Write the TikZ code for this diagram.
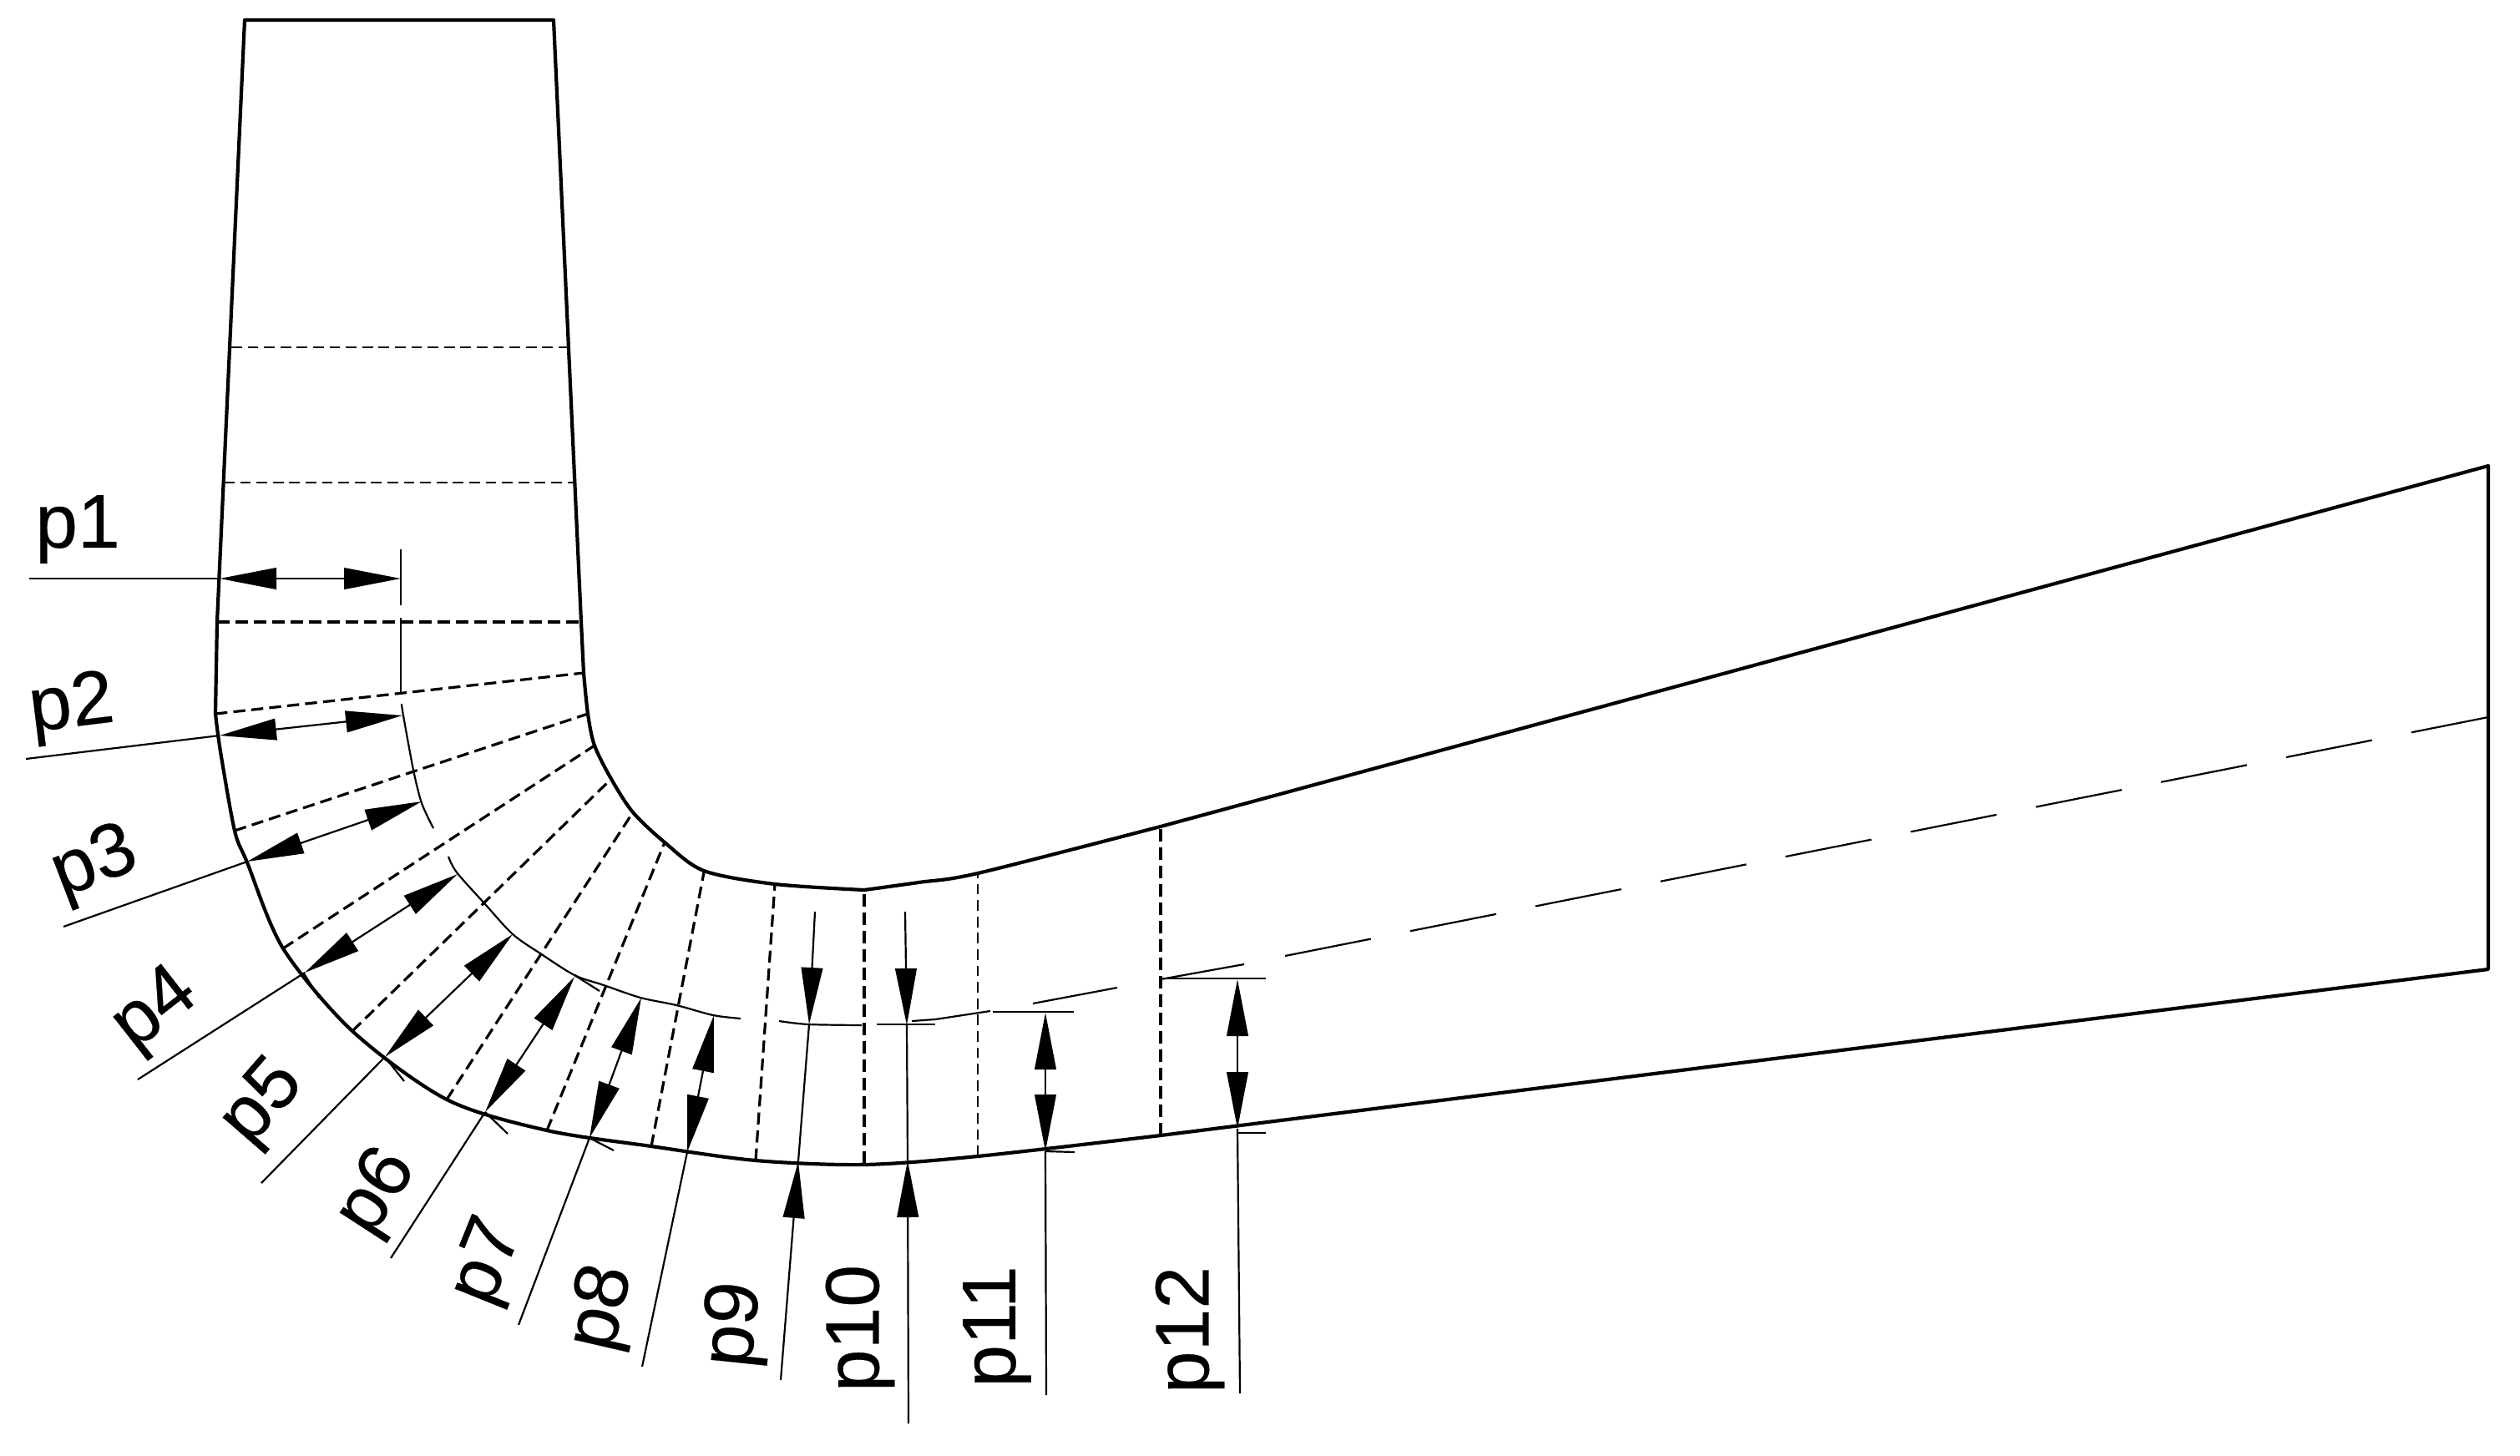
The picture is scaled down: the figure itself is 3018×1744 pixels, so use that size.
\documentclass[tikz,border=0pt]{standalone}
\usepackage{fontspec}
\setmainfont[FakeBold=0.3]{Liberation Sans}
\usetikzlibrary{arrows.meta}
\tikzset{
  contour/.style={line width=1.05pt,line join=round,line cap=round},
  dashthin/.style={line width=0.55pt,dash pattern=on 3.2pt off 1.7pt},
  dashmed/.style={line width=0.8pt,dash pattern=on 3.6pt off 1.8pt},
  dashthick/.style={line width=1.15pt,dash pattern=on 3.8pt off 1.7pt},
  witness/.style={line width=0.55pt,line join=round},
  centreline/.style={line width=0.55pt,dash pattern=on 26.2pt off 12pt},
  dimline/.style={line width=0.55pt},
  dimboth/.style={dimline,{Triangle[length=17pt,width=6.4pt]}-{Triangle[length=17pt,width=6.4pt]}},
  dimend/.style={dimline,-{Triangle[length=17pt,width=6.4pt]}},
  lbl/.style={inner sep=0pt,font=\fontsize{22.8}{27}\selectfont}
}
\begin{document}
\begin{tikzpicture}[x=0.25pt,y=-0.25pt]
\useasboundingbox (0,0) rectangle (3018,1744);
% outline
\draw[contour] (258,855) -- (260,745) -- (293,24) -- (663,24) -- (696,745) -- (699,806);
\draw[contour] plot[smooth,tension=0.5] coordinates {(699,806) (704,855) (712,893) (732,933) (758,973) (796,1009) (843,1043) (928,1059) (1035,1066)};
\draw[contour] plot[smooth,tension=0.5] coordinates {(1035,1066) (1100,1057) (1171,1046) (1390,990)} -- (2980,558) -- (2980,1161) -- (1390,1360);
\draw[contour] plot[smooth,tension=0.5] coordinates {(258,855) (264,900) (281,995) (296,1033) (339,1136) (422,1235) (535,1317) (655,1354) (780,1373) (905,1390) (1035,1395) (1171,1385) (1390,1360)};
% section lines
\draw[dashthin] (277,416) -- (682,416);
\draw[dashthin] (268,578) -- (688,578);
\draw[dashthick] (260,745) -- (696,745);
\draw[dashmed] (258,855) -- (699,806);
\draw[dashmed] (281,995) -- (704,855);
\draw[dashmed] (339,1136) -- (712,893);
\draw[dashmed] (422,1235) -- (732,933);
\draw[dashmed] (535,1317) -- (758,973);
\draw[dashmed] (655,1354) -- (796,1009);
\draw[dashmed] (780,1373) -- (843,1045);
\draw[dashmed] (905,1390) -- (928,1059);
\draw[dashthick] (1035,1394) -- (1035,1066);
\draw[dashthin] (1171,1385) -- (1171,1046);
\draw[dashthick] (1390,1360) -- (1390,990);
% witness and centre lines
\draw[witness] (480,658) -- (480,725);
\draw[witness] (480,740) -- (480,830);
\draw[witness] plot[smooth,tension=0.5] coordinates {(481,843) (483,857) (495,922) (505,962) (519,992)};
\draw[witness] plot[smooth,tension=0.5] coordinates {(537,1026) (547,1045) (581,1083) (614,1119) (647,1142) (688,1168) (723,1180) (767,1195) (810,1204) (854,1216) (887,1220)};
\draw[witness] (688,1168) -- (718,1187);
\draw[witness] plot[smooth,tension=0.5] coordinates {(933,1223) (968,1227) (1032,1228)};
\draw[witness] (1050,1227) -- (1120,1227);
\draw[witness] (1092,1223) -- (1120,1221) -- (1186,1211);
\draw[witness] (1189,1212) -- (1286,1212);
\draw[witness] (1237,1202) -- (1338,1183);
\draw[witness] (1390,1173) -- (1490,1155);
\draw[witness] (1393,1172) -- (1516,1172);
\draw[centreline] (1539,1145) -- (2980,859);
\draw[witness] (1252,1379) -- (1287,1380);
\draw[witness] (1482,1357) -- (1516,1357);
\draw[witness] (364,1166) -- (382,1195);
\draw[witness] (461,1266) -- (484,1295);
\draw[witness] (581,1332) -- (608,1358);
\draw[witness] (706,1363) -- (735,1378);
% dimension points
\coordinate (p1a) at (263,693); \coordinate (p1b) at (480,693); \coordinate (p1e) at (35,693);
\coordinate (p2a) at (263,881); \coordinate (p2b) at (482,857); \coordinate (p2e) at (31,909);
\coordinate (p3a) at (296,1032); \coordinate (p3b) at (505,960); \coordinate (p3e) at (76,1110);
\coordinate (p4a) at (365,1165); \coordinate (p4b) at (548,1047); \coordinate (p4e) at (165,1293);
\coordinate (p5a) at (461,1266); \coordinate (p5b) at (614,1119); \coordinate (p5e) at (313,1417);
\coordinate (p6a) at (581,1332); \coordinate (p6b) at (688,1170); \coordinate (p6e) at (468,1507);
\coordinate (p7a) at (706,1363); \coordinate (p7b) at (768,1195); \coordinate (p7e) at (621,1587);
\coordinate (p8a) at (823,1380); \coordinate (p8b) at (855,1216); \coordinate (p8e) at (769,1637);
\coordinate (p9t) at (976,1092); \coordinate (p9b) at (969,1227); \coordinate (p9a) at (956,1391); \coordinate (p9e) at (935,1653);
\coordinate (p10t) at (1084,1092); \coordinate (p10b) at (1086,1228); \coordinate (p10a) at (1087,1390); \coordinate (p10e) at (1088,1705);
\coordinate (p11b) at (1252,1213); \coordinate (p11a) at (1252,1379); \coordinate (p11e) at (1253,1671);
\coordinate (p12b) at (1482,1173); \coordinate (p12a) at (1482,1352); \coordinate (p12e) at (1485,1669);
% dimension lines
\foreach \n in {1,...,8}{
  \draw[dimboth] (p\n a) -- (p\n b);
  \draw[dimline] (p\n a) -- (p\n e);
}
\draw[dimend] (p9t) -- (p9b);
\draw[dimline] (p9b) -- (p9a);
\draw[dimend] (p9e) -- (p9a);
\draw[dimend] (p10t) -- (p10b);
\draw[dimline] (p10b) -- (p10a);
\draw[dimend] (p10e) -- (p10a);
\draw[dimboth] (p11a) -- (p11b);
\draw[dimline] (p11a) -- (p11e);
\draw[dimboth] (p12a) -- (p12b);
\draw[dimline] (p12a) -- (p12e);
% labels
\node[lbl] (l1) at (93,634) {p1};
\node[lbl,rotate=7] (l2) at (86,848) {p2};
\node[lbl,rotate=21] (l3) at (114,1036) {p3};
\node[lbl,rotate=38] (l4) at (187,1211) {p4};
\node[lbl,rotate=49] (l5) at (316,1322) {p5};
\node[lbl,rotate=57] (l6) at (453,1429) {p6};
\node[lbl,rotate=68] (l7) at (586,1512) {p7};
\node[lbl,rotate=77] (l8) at (723,1567) {p8};
\node[lbl,rotate=84] (l9) at (882,1587) {p9};
\node[lbl,rotate=90] (l10) at (1030,1591) {p10};
\node[lbl,rotate=90] (l11) at (1194,1589) {p11};
\node[lbl,rotate=90] (l12) at (1425,1593) {p12};
\end{tikzpicture}
\end{document}
